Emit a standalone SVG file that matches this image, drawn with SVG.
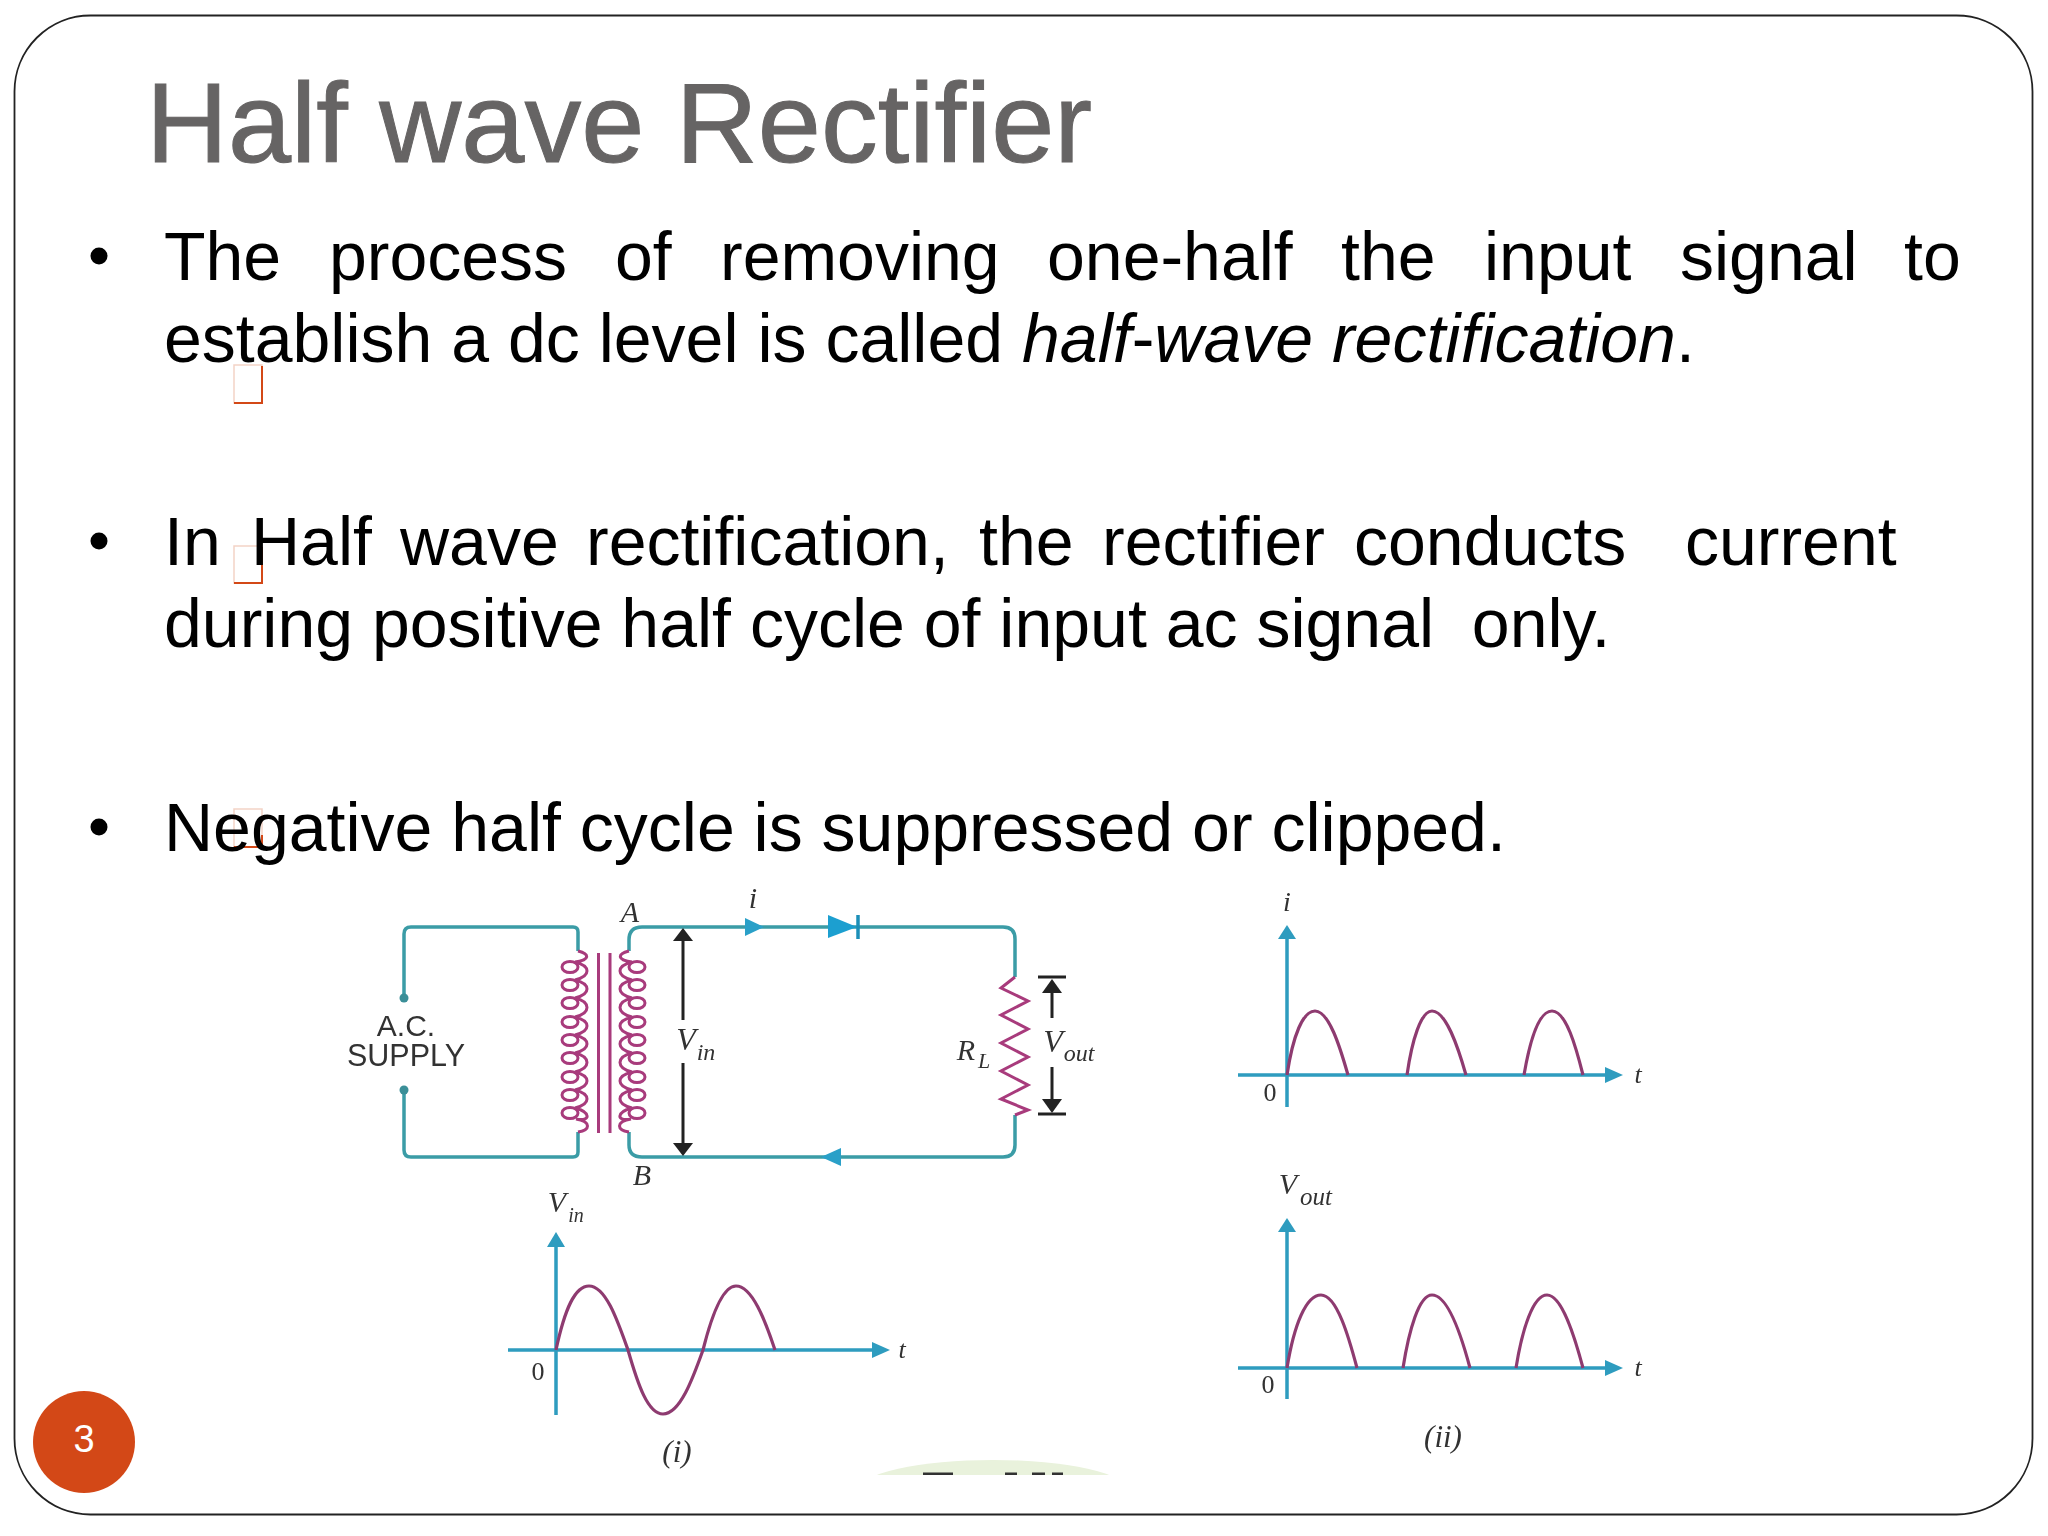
<svg xmlns="http://www.w3.org/2000/svg" width="2048" height="1536" viewBox="0 0 2048 1536">
<style>
.b{font:68px "Liberation Sans",Arial,sans-serif;fill:#000}
.i{font-style:italic}
.t{font:113.5px "Liberation Sans",Arial,sans-serif;fill:#666464;stroke:#666464;stroke-width:1}
.s{font-family:"Liberation Serif","Times New Roman",serif;font-style:italic;fill:#333}
.u{font-family:"Liberation Serif","Times New Roman",serif;fill:#333}
.l{font-family:"Liberation Sans",Arial,sans-serif;fill:#333}
.w{fill:none;stroke:#3a9ca6;stroke-width:3.5}
.a{fill:none;stroke:#2f9cbf;stroke-width:3.5}
.af{fill:#2f9cbf}
.c{fill:none;stroke:#a83a7c;stroke-width:3}
.p{fill:none;stroke:#8e3a70;stroke-width:3.2}
.k{fill:none;stroke:#222;stroke-width:3}
.kf{fill:#222}
.box{fill:none;stroke:#f3d3c6;stroke-width:1.5}
.boxd{fill:none;stroke:#d34817;stroke-width:2}
</style>
<defs>
<filter id="soft" x="-5%" y="-5%" width="110%" height="110%"><feGaussianBlur stdDeviation="0.6"/></filter>
<clipPath id="capclip"><rect x="860" y="1440" width="270" height="35"/></clipPath>
<g id="coil">
<ellipse cx="0" cy="967" rx="8" ry="5.5"/><ellipse cx="0" cy="985" rx="8" ry="5.5"/><ellipse cx="0" cy="1003" rx="8" ry="5.5"/><ellipse cx="0" cy="1022" rx="8" ry="5.5"/><ellipse cx="0" cy="1040" rx="8" ry="5.5"/><ellipse cx="0" cy="1058" rx="8" ry="5.5"/><ellipse cx="0" cy="1077" rx="8" ry="5.5"/><ellipse cx="0" cy="1095" rx="8" ry="5.5"/><ellipse cx="0" cy="1113" rx="8" ry="5.5"/>
<path d="M8 951C20 954 20 960 5 962C21 966 21 976 5 980C21 984 21 994 5 998C21 1002 21 1013 5 1017C21 1021 21 1031 5 1035C21 1039 21 1049 5 1053C21 1057 21 1068 5 1072C21 1076 21 1086 5 1090C21 1094 21 1104 5 1108C21 1112 21 1122 6 1119C22 1122 20 1130 8 1132"/>
</g>
</defs>
<rect width="2048" height="1536" fill="#fff"/>
<rect id="frame" x="14.5" y="15.5" width="2018" height="1499" rx="76" ry="76" fill="#fff" stroke="#222" stroke-width="1.8"/>
<g id="boxes">
<rect class="box" x="234" y="365" width="28" height="38"/><path class="boxd" d="M262 366V403H234"/>
<rect class="box" x="234" y="546" width="28" height="37"/><path class="boxd" d="M262 547V583H234"/>
<rect class="box" x="234" y="809" width="28" height="38"/><path class="boxd" d="M262 835V847H234"/>
</g>
<text id="title" class="t" x="146" y="162">Half wave Rectifier</text>
<g id="bullets">
<circle cx="99" cy="256" r="8.5"/><circle cx="99" cy="541" r="8.5"/><circle cx="99" cy="827" r="8.5"/>
<text class="b" y="280"><tspan x="164">The</tspan><tspan x="329">process</tspan><tspan x="615">of</tspan><tspan x="720">removing</tspan><tspan x="1047">one-half</tspan><tspan x="1341">the</tspan><tspan x="1484">input</tspan><tspan x="1680">signal</tspan><tspan x="1904">to</tspan></text>
<text class="b" x="164" y="362">establish a dc level is called <tspan class="i">half</tspan>-<tspan class="i">wave rectification</tspan>.</text>
<text class="b" y="565"><tspan x="164">In</tspan><tspan x="251">Half</tspan><tspan x="400">wave</tspan><tspan x="586">rectification,</tspan><tspan x="979">the</tspan><tspan x="1102">rectifier</tspan><tspan x="1354">conducts</tspan><tspan x="1685">current</tspan></text>
<text class="b" x="164" y="647">during positive half cycle of input ac signal &#160;only.</text>
<text class="b" x="164" y="851">Negative half cycle is suppressed or clipped.</text>
</g>
<g id="badge"><circle cx="84" cy="1442" r="51" fill="#d34817"/><text x="84" y="1452" text-anchor="middle" font-family="Liberation Sans,Arial,sans-serif" font-size="38" fill="#fff">3</text></g>
<g id="figure" filter="url(#soft)">
<g id="connectors">
<path class="w" d="M404 998V934Q404 927 411 927H573Q578 927 578 932V951"/>
<path class="w" d="M404 1090V1150Q404 1157 411 1157H573Q578 1157 578 1152V1132"/>
<path class="w" d="M629 951V940Q629 927 642 927H1003Q1015 927 1015 939V977"/>
<path class="w" d="M629 1132V1145Q629 1157 642 1157H1003Q1015 1157 1015 1145V1115"/>
<circle cx="404" cy="998" r="4.5" fill="#3a8f98"/><circle cx="404" cy="1090" r="4.5" fill="#3a8f98"/>
<path d="M745 918L764 927L745 936Z" fill="#2aa0c8"/>
<path d="M841 1148L821 1157L841 1166Z" fill="#2aa0c8"/>
</g>
<g id="diode"><path d="M828 915L857 927L828 938Z" fill="#1d9fd0"/><path d="M858 915V939" stroke="#1d8fb8" stroke-width="3.5"/></g>
<g id="transformer">
<g id="primary" class="c"><use href="#coil" x="570"/></g>
<g id="secondary" class="c"><use href="#coil" transform="translate(637 0) scale(-1 1)"/></g>
<path class="c" d="M598.5 953V1133M610 953V1133"/>
</g>
<g id="resistor"><path class="c" d="M1015 977L1001 988L1028 1001L1001 1015L1028 1029L1001 1043L1028 1057L1001 1071L1028 1085L1001 1099L1028 1110L1015 1115"/></g>
<g id="vin-arrow"><path class="k" d="M683 935V1020M683 1063V1150"/><path class="kf" d="M673 941L683 928L693 941Z"/><path class="kf" d="M673 1143L683 1156L693 1143Z"/></g>
<g id="vout-arrow"><path class="k" d="M1038 977H1066M1038 1114H1066M1052 990V1018M1052 1067V1102"/><path class="kf" d="M1042 993L1052 979L1062 993Z"/><path class="kf" d="M1042 1099L1052 1113L1062 1099Z"/></g>
<g id="labels-circuit">
<text class="l" x="406" y="1036" text-anchor="middle" font-size="30">A.C.</text>
<text class="l" x="406" y="1066" text-anchor="middle" font-size="30.500">SUPPLY</text>
<text class="s" x="630" y="922" text-anchor="middle" font-size="30">A</text>
<text class="s" x="753" y="908" text-anchor="middle" font-size="30">i</text>
<text class="s" x="642" y="1185" text-anchor="middle" font-size="30">B</text>
<text class="s" x="686" y="1050" text-anchor="middle" font-size="32">V</text><text class="s" x="706" y="1060" text-anchor="middle" font-size="24">in</text>
<text class="s" x="966" y="1060" text-anchor="middle" font-size="30">R</text><text class="s" x="984" y="1068" text-anchor="middle" font-size="22">L</text>
<text class="s" x="1053" y="1052" text-anchor="middle" font-size="32">V</text><text class="s" x="1079" y="1061" text-anchor="middle" font-size="24">out</text>
</g>
<g id="graph-vin">
<path class="a" d="M556 1245V1415M508 1350H875"/><path class="af" d="M547 1247L556 1232L565 1247Z"/><path class="af" d="M872 1342L890 1350L872 1358Z"/>
<path class="p" d="M556 1350C565 1308 575 1286 589 1286C606 1286 618 1322 628 1350C638 1385 648 1414 663 1414C680 1414 693 1378 703 1350C711 1318 722 1286 736 1286C752 1286 765 1320 775 1350"/>
<text class="s" x="557" y="1212" text-anchor="middle" font-size="30">V</text><text class="s" x="576" y="1222" text-anchor="middle" font-size="20">in</text>
<text class="s" x="902" y="1358" text-anchor="middle" font-size="26">t</text>
<text class="u" x="538" y="1380" text-anchor="middle" font-size="26">0</text>
<text class="s" x="677" y="1462" text-anchor="middle" font-size="31">(i)</text>
</g>
<g id="graph-i">
<path class="a" d="M1287 937V1107M1238 1075H1607"/><path class="af" d="M1278 939L1287 925L1296 939Z"/><path class="af" d="M1605 1067L1623 1075L1605 1083Z"/>
<path class="p" d="M1287 1075C1293 1035 1303 1011 1315 1011C1329 1011 1340 1047 1348 1075M1407 1075C1412 1040 1421 1011 1432 1011C1446 1011 1458 1047 1466 1075M1524 1075C1530 1040 1539 1011 1552 1011C1566 1011 1576 1047 1583 1075"/>
<text class="s" x="1287" y="911" text-anchor="middle" font-size="28">i</text>
<text class="s" x="1638" y="1083" text-anchor="middle" font-size="26">t</text>
<text class="u" x="1270" y="1101" text-anchor="middle" font-size="26">0</text>
</g>
<g id="graph-vout">
<path class="a" d="M1287 1230V1399M1238 1368H1607"/><path class="af" d="M1278 1232L1287 1218L1296 1232Z"/><path class="af" d="M1605 1360L1623 1368L1605 1376Z"/>
<path class="p" d="M1287 1368C1294 1325 1306 1295 1321 1295C1337 1295 1349 1338 1357 1368M1403 1368C1409 1330 1419 1295 1432 1295C1448 1295 1462 1338 1470 1368M1516 1368C1522 1330 1533 1295 1547 1295C1562 1295 1575 1338 1583 1368"/>
<text class="s" x="1288" y="1194" text-anchor="middle" font-size="30">V</text><text class="s" x="1316" y="1205" text-anchor="middle" font-size="25">out</text>
<text class="s" x="1638" y="1376" text-anchor="middle" font-size="26">t</text>
<text class="u" x="1268" y="1393" text-anchor="middle" font-size="26">0</text>
<text class="s" x="1443" y="1447" text-anchor="middle" font-size="31">(ii)</text>
</g>
<g id="caption-cut" clip-path="url(#capclip)"><ellipse cx="993" cy="1490" rx="134" ry="30" fill="#e9f2dc"/>
<g fill="#333"><rect x="923" y="1472.500" width="30" height="3"/><rect x="1005" y="1472.500" width="12" height="3"/><rect x="1032" y="1472.500" width="13" height="3"/><rect x="1052" y="1472.500" width="11" height="3"/></g></g>
</g>
</svg>
